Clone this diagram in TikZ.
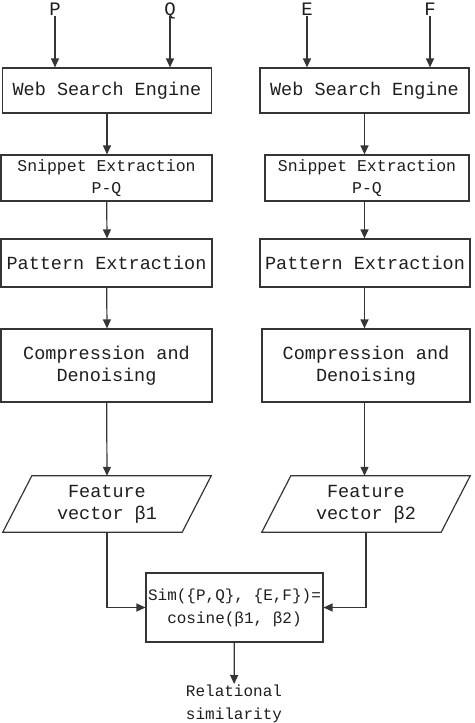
\documentclass[tikz,border=0pt]{standalone}
\usepackage{fontspec}
\setmainfont{Liberation Mono}
\usetikzlibrary{arrows.meta, positioning}
\definecolor{flowline}{HTML}{353535}
\definecolor{flowtext}{HTML}{1E1E1E}
\tikzset{
  procbox/.style={draw=flowline, line width=1.2pt, rectangle,
                  align=center, text=flowtext, inner sep=2pt},
  iobox/.style={rectangle, align=center, text=flowtext, inner sep=2pt,
                minimum width=179, minimum height=56},
  ioframe/.style={draw=flowline, line width=1.2pt, line join=miter},
  flow/.style={draw=flowline, line width=1.2pt,
               -{Triangle[length=9pt, width=8pt]}},
  inlabel/.style={font=\fontsize{19}{22}\selectfont, text=flowtext,
                  inner sep=1pt, text depth=0pt, anchor=base},
  bigtxt/.style={font=\fontsize{18.5}{22}\selectfont},
  midtxt/.style={font=\fontsize{16.5}{22}\selectfont},
  smalltxt/.style={font=\fontsize{16}{23}\selectfont},
}
\newcommand{\ioslant}[1]{%
  \draw[ioframe] ([xshift=-14.5pt]#1.south west) -- ([xshift=-14.5pt]#1.south east)
    -- ([xshift=14.5pt]#1.north east) -- ([xshift=14.5pt]#1.north west) -- cycle;}

\begin{document}
\begin{tikzpicture}[x=1pt, y=-1pt]
  \useasboundingbox (0,0) rectangle (474,723);
  %% Inputs ─────────────────────────────────────────────────────
  \node[inlabel] (inP) at (55,15)  {P};
  \node[inlabel] (inQ) at (170,15) {Q};
  \node[inlabel] (inE) at (307,15) {E};
  \node[inlabel] (inF) at (430,15) {F};
  %% Left pipeline (P, Q) ───────────────────────────────────────
  \node[procbox, bigtxt, minimum width=209, minimum height=45]
    (webL) at (107,90.5) {Web Search Engine};
  \node[procbox, midtxt, minimum width=211, minimum height=46]
    (snipL) at (106.5,178) {Snippet Extraction\\P-Q};
  \node[procbox, bigtxt, minimum width=211, minimum height=48]
    (patL) at (106.5,263) {Pattern Extraction};
  \node[procbox, bigtxt, minimum width=211, minimum height=73]
    (compL) at (106.5,365.5) {Compression and\\Denoising};
  \node[iobox, bigtxt] (featL) at (107,504) {Feature\\vector β1};
  \ioslant{featL}
  %% Right pipeline (E, F) ──────────────────────────────────────
  \node[procbox, bigtxt, minimum width=209, minimum height=45]
    (webR) at (364.5,90.5) {Web Search Engine};
  \node[procbox, midtxt, minimum width=204, minimum height=46]
    (snipR) at (367,178) {Snippet Extraction\\P-Q};
  \node[procbox, bigtxt, minimum width=210, minimum height=48]
    (patR) at (365,263) {Pattern Extraction};
  \node[procbox, bigtxt, minimum width=208, minimum height=73]
    (compR) at (366,365.5) {Compression and\\Denoising};
  \node[iobox, bigtxt] (featR) at (366,504) {Feature\\vector β2};
  \ioslant{featR}
  %% Similarity and result ──────────────────────────────────────
  \node[procbox, smalltxt, minimum width=173, minimum height=69]
    (sim) at (234.5,607.5) {Sim(\{P,Q\}, \{E,F\})=\\cosine(β1, β2)};
  \node[smalltxt, text=flowtext, align=center, inner sep=1pt, anchor=north]
    (rel) at (234,684) {Relational\\similarity};
  %% Connectors ─────────────────────────────────────────────────
  \draw[flow] (inP) -- (inP |- webL.north);
  \draw[flow] (inQ) -- (inQ |- webL.north);
  \draw[flow] (inE) -- (inE |- webR.north);
  \draw[flow] (inF) -- (inF |- webR.north);
  \draw[flow] (webL) -- (webL |- snipL.north);
  \draw[flow] (snipL) -- (webL |- patL.north);
  \draw[flow] (patL) -- (webL |- compL.north);
  \draw[flow] (compL) -- (webL |- featL.north);
  \draw[flow] (webR) -- (webR |- snipR.north);
  \draw[flow] (webR |- snipR.south) -- (webR |- patR.north);
  \draw[flow] (webR |- patR.south) -- (webR |- compR.north);
  \draw[flow] (webR |- compR.south) -- (webR |- featR.north);
  \draw[flow] (featL) |- (sim);
  \draw[flow] (featR) |- (sim);
  \draw[flow] (sim) -- (rel);
\end{tikzpicture}
\end{document}
